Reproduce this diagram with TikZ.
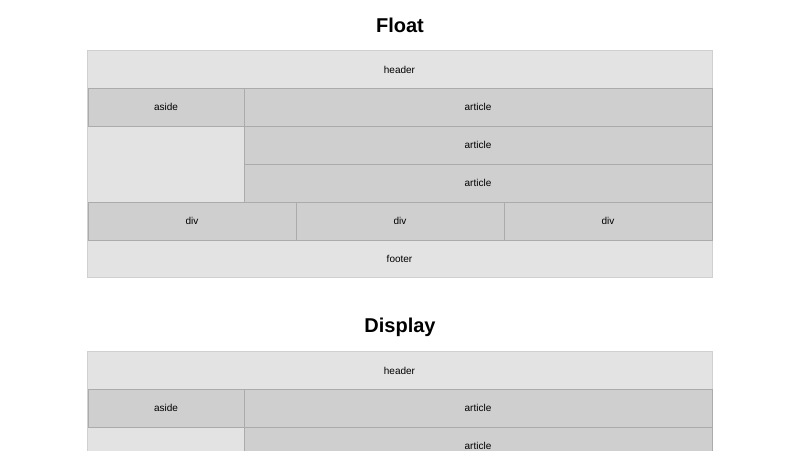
\documentclass[tikz,border=0pt]{standalone}
\usepackage{fontspec}
\setmainfont{Liberation Sans}

\definecolor{lightbox}{HTML}{E3E3E3}
\definecolor{darkbox}{HTML}{CFCFCF}
\definecolor{edgeline}{HTML}{ABABAB}
\definecolor{outerline}{HTML}{D0D0D0}

\tikzset{
  title/.style={font=\fontsize{20}{24}\selectfont\bfseries},
  outerbox/.style={fill=lightbox,draw=outerline,line width=1pt,inner sep=0,outer sep=0,anchor=north west},
  areabox/.style={inner sep=0,outer sep=0,anchor=north west,font=\fontsize{10}{12}\selectfont},
  itembox/.style={areabox,fill=darkbox,draw=edgeline,line width=1pt}
}

\begin{document}
\begin{tikzpicture}[x=1pt,y=-1pt]

\useasboundingbox (0,0) rectangle (800,450);
\clip (0,0) rectangle (800,450);
\fill[white] (0,0) rectangle (800,450);

% float layout
\node[title] (floattitle) at (400,25) {Float};
\node[outerbox,minimum width=625pt,minimum height=227pt] (floatbox) at (87,50) {};

\node[areabox,minimum width=623pt,minimum height=37pt] (fheader) at (88,51) {header};
\node[itembox,minimum width=156pt,minimum height=38pt] (faside) at (88,88) {aside};
\foreach \i/\y in {1/88,2/126,3/164}
  \node[itembox,minimum width=468pt,minimum height=38pt] (farticle\i) at (244,\y) {article};
\foreach \i/\x in {1/88,2/296,3/504}
  \node[itembox,minimum width=208pt,minimum height=38pt] (fdiv\i) at (\x,202) {div};
\node[areabox,minimum width=623pt,minimum height=37pt] (ffooter) at (88,240) {footer};

% display layout
\node[title] (displaytitle) at (400,327) {Display};
\node[outerbox,minimum width=625pt,minimum height=130pt] (displaybox) at (87,351) {};

\node[areabox,minimum width=623pt,minimum height=37pt] (dheader) at (88,352) {header};
\node[itembox,minimum width=156pt,minimum height=38pt] (daside) at (88,389) {aside};
\foreach \i/\y in {1/389,2/427}
  \node[itembox,minimum width=468pt,minimum height=38pt] (darticle\i) at (244,\y) {article};

\end{tikzpicture}
\end{document}
